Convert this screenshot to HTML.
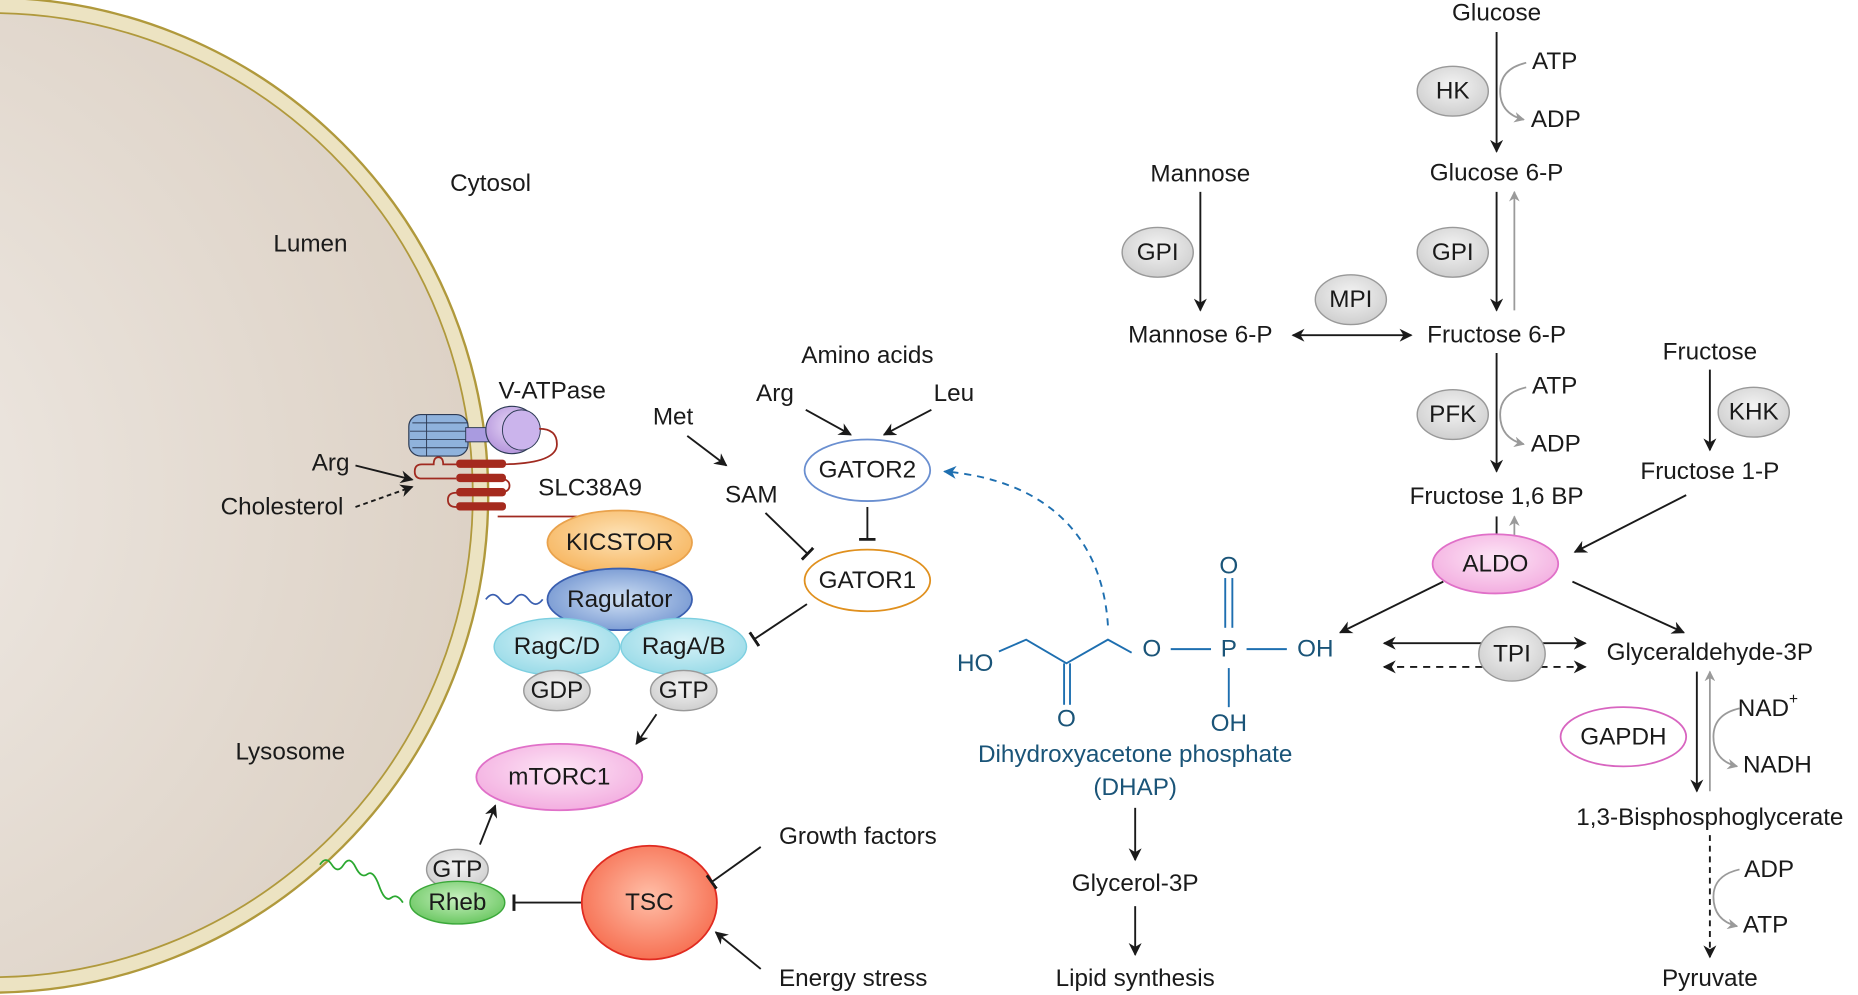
<!DOCTYPE html>
<html><head><meta charset="utf-8"><style>
html,body{margin:0;padding:0;background:#fff;}
svg{display:block;}
text{font-family:"Liberation Sans",Arial,sans-serif;font-size:20.5px;fill:#1a1a1a;text-anchor:middle;dominant-baseline:central;}
</style></head><body>
<svg width="1858" height="995" viewBox="0 0 1568 840" preserveAspectRatio="none" xmlns="http://www.w3.org/2000/svg">
<defs>
<radialGradient id="lum" cx="0.3" cy="0.5" r="0.7"><stop offset="0" stop-color="#f0ebe6"/><stop offset="1" stop-color="#ddd2c6"/></radialGradient>
<radialGradient id="gray" cx="0.5" cy="0.4" r="0.6"><stop offset="0" stop-color="#f4f4f4"/><stop offset="1" stop-color="#cfcfcf"/></radialGradient>
<radialGradient id="pink" cx="0.5" cy="0.4" r="0.6"><stop offset="0" stop-color="#fde6f6"/><stop offset="1" stop-color="#f3aee0"/></radialGradient>
<radialGradient id="orng" cx="0.5" cy="0.4" r="0.6"><stop offset="0" stop-color="#fde3b8"/><stop offset="1" stop-color="#f7b660"/></radialGradient>
<radialGradient id="blue" cx="0.5" cy="0.5" r="0.6"><stop offset="0" stop-color="#cfe0f4"/><stop offset="1" stop-color="#6f92cf"/></radialGradient>
<radialGradient id="cyan" cx="0.5" cy="0.4" r="0.6"><stop offset="0" stop-color="#daf3f8"/><stop offset="1" stop-color="#9adbe8"/></radialGradient>
<radialGradient id="grn" cx="0.5" cy="0.4" r="0.6"><stop offset="0" stop-color="#c8f0c0"/><stop offset="1" stop-color="#6cc863"/></radialGradient>
<radialGradient id="red" cx="0.5" cy="0.45" r="0.6"><stop offset="0" stop-color="#ffbfa8"/><stop offset="1" stop-color="#f66a4c"/></radialGradient>
<radialGradient id="purp" cx="0.5" cy="0.4" r="0.6"><stop offset="0" stop-color="#e6d6f6"/><stop offset="1" stop-color="#b596dc"/></radialGradient>
<marker id="a" viewBox="0 0 10 10" refX="9" refY="5" markerWidth="11" markerHeight="11" orient="auto-start-reverse" markerUnits="userSpaceOnUse"><path d="M0,0 L10,5 L0,10 L3,5z" fill="#1a1a1a"/></marker>
<marker id="ag" viewBox="0 0 10 10" refX="9" refY="5" markerWidth="9" markerHeight="9" orient="auto-start-reverse" markerUnits="userSpaceOnUse"><path d="M0,0 L10,5 L0,10 L3,5z" fill="#9a9a9a"/></marker>
<marker id="ab" viewBox="0 0 10 10" refX="9" refY="5" markerWidth="11" markerHeight="11" orient="auto" markerUnits="userSpaceOnUse"><path d="M0,0 L10,5 L0,10 L3,5z" fill="#1e6fb0"/></marker>
<marker id="t" viewBox="0 0 4 14" refX="2" refY="7" markerWidth="4" markerHeight="14" orient="auto" markerUnits="userSpaceOnUse"><rect x="0" y="0" width="2.5" height="14" fill="#1a1a1a"/></marker>
</defs>

<circle cx="-8" cy="418" r="420" fill="#ece3c2" stroke="#b0993c" stroke-width="2"/>
<circle cx="-8" cy="418" r="407" fill="url(#lum)" stroke="#b0993c" stroke-width="1.5"/>

<text x="414" y="155">Cytosol</text>
<text x="262" y="206">Lumen</text>
<text x="245" y="635">Lysosome</text>
<text x="466" y="330">V-ATPase</text>
<text x="498" y="412">SLC38A9</text>
<text x="279" y="391">Arg</text>
<text x="238" y="428">Cholesterol</text>
<line x1="300" y1="393" x2="348" y2="405" stroke="#1a1a1a" stroke-width="1.6" marker-end="url(#a)"/>
<line x1="300" y1="428" x2="348" y2="411" stroke="#1a1a1a" stroke-width="1.6" stroke-dasharray="4,3" marker-end="url(#a)"/>

<rect x="345" y="350" width="50" height="35" rx="10" fill="#8fb2dc" stroke="#2d3b55" stroke-width="1"/>
<g stroke="#2d3b55" stroke-width="0.8"><line x1="348" y1="357" x2="395" y2="357"/><line x1="346" y1="364" x2="395" y2="364"/><line x1="346" y1="371" x2="395" y2="371"/><line x1="348" y1="378" x2="395" y2="378"/><line x1="360" y1="350" x2="360" y2="385"/></g>
<rect x="393" y="361" width="32" height="12" fill="#a99be0" stroke="#2d3b55" stroke-width="0.8"/>
<ellipse cx="432" cy="363" rx="22" ry="20" fill="url(#purp)" stroke="#2d3b55" stroke-width="1"/>
<ellipse cx="440" cy="363" rx="16" ry="17" fill="#cbb4ec" stroke="#2d3b55" stroke-width="0.8"/>
<path d="M505,436 L420,436 M420,428 L385,428 Q378,428 378,422 Q378,416 385,416 L420,416 M420,404 Q430,404 430,410 Q430,416 420,416 M385,404 L356,404 Q350,404 350,398 Q350,392 356,392 L366,392 Q366,386 370,386 Q374,386 374,392 L420,392 Q470,392 470,375 Q470,362 455,362" fill="none" stroke="#a02a20" stroke-width="1.5"/>
<g fill="#a52a1e"><rect x="385" y="388" width="42" height="7" rx="3"/><rect x="385" y="400" width="42" height="7" rx="3"/><rect x="385" y="412" width="42" height="7" rx="3"/><rect x="385" y="424" width="42" height="7" rx="3"/></g>

<ellipse cx="523" cy="458" rx="61" ry="27" fill="url(#orng)" stroke="#e9a24c" stroke-width="1.5"/>
<text x="523" y="458">KICSTOR</text>
<path d="M410,506 q6,-8 12,0 t12,0 t12,0 t12,0" fill="none" stroke="#3a5fb0" stroke-width="1.5"/>
<ellipse cx="523" cy="506" rx="61" ry="26" fill="url(#blue)" stroke="#3a5fb0" stroke-width="1.5"/>
<text x="523" y="506">Ragulator</text>
<ellipse cx="470" cy="546" rx="53" ry="24" fill="url(#cyan)" stroke="#7dcfe0" stroke-width="1.2"/>
<ellipse cx="577" cy="546" rx="53" ry="24" fill="url(#cyan)" stroke="#7dcfe0" stroke-width="1.2"/>
<text x="470" y="546">RagC/D</text><text x="577" y="546">RagA/B</text>
<ellipse cx="470" cy="583" rx="28" ry="17" fill="url(#gray)" stroke="#999" stroke-width="1.2"/>
<ellipse cx="577" cy="583" rx="28" ry="17" fill="url(#gray)" stroke="#999" stroke-width="1.2"/>
<text x="470" y="583">GDP</text><text x="577" y="583">GTP</text>
<line x1="554" y1="603" x2="537" y2="628" stroke="#1a1a1a" stroke-width="1.6" marker-end="url(#a)"/>
<ellipse cx="472" cy="656" rx="70" ry="28" fill="url(#pink)" stroke="#e070c8" stroke-width="1.5"/>
<text x="472" y="656">mTORC1</text>

<path d="M270,730 q5,-8 10,0 t10,0 t10,2 t10,6 t10,10 t10,10 t10,4" fill="none" stroke="#2aa830" stroke-width="1.5"/>
<ellipse cx="386" cy="734" rx="26" ry="17" fill="url(#gray)" stroke="#999" stroke-width="1.2"/>
<text x="386" y="734">GTP</text>
<ellipse cx="386" cy="762" rx="40" ry="18" fill="url(#grn)" stroke="#3ba83a" stroke-width="1.2"/>
<text x="386" y="762">Rheb</text>
<line x1="405" y1="713" x2="418" y2="680" stroke="#1a1a1a" stroke-width="1.6" marker-end="url(#a)"/>
<line x1="492" y1="762" x2="433" y2="762" stroke="#1a1a1a" stroke-width="1.6" marker-end="url(#t)"/>
<ellipse cx="548" cy="762" rx="57" ry="48" fill="url(#red)" stroke="#e02a20" stroke-width="1.5"/>
<text x="548" y="762">TSC</text>
<text x="724" y="706">Growth factors</text>
<line x1="642" y1="715" x2="600" y2="745" stroke="#1a1a1a" stroke-width="1.6" marker-end="url(#t)"/>
<text x="720" y="826">Energy stress</text>
<line x1="642" y1="818" x2="604" y2="787" stroke="#1a1a1a" stroke-width="1.6" marker-end="url(#a)"/>

<text x="732" y="300">Amino acids</text>
<text x="654" y="332">Arg</text><text x="805" y="332">Leu</text>
<line x1="680" y1="346" x2="718" y2="367" stroke="#1a1a1a" stroke-width="1.6" marker-end="url(#a)"/>
<line x1="786" y1="346" x2="746" y2="367" stroke="#1a1a1a" stroke-width="1.6" marker-end="url(#a)"/>
<ellipse cx="732" cy="397" rx="53" ry="26" fill="#fff" stroke="#6a8fd0" stroke-width="1.5"/>
<text x="732" y="397">GATOR2</text>
<line x1="732" y1="428" x2="732" y2="456" stroke="#1a1a1a" stroke-width="1.6" marker-end="url(#t)"/>
<ellipse cx="732" cy="490" rx="53" ry="26" fill="#fff" stroke="#e0901e" stroke-width="1.5"/>
<text x="732" y="490">GATOR1</text>
<text x="568" y="352">Met</text>
<line x1="580" y1="368" x2="613" y2="393" stroke="#1a1a1a" stroke-width="1.6" marker-end="url(#a)"/>
<text x="634" y="418">SAM</text>
<line x1="646" y1="433" x2="682" y2="468" stroke="#1a1a1a" stroke-width="1.6" marker-end="url(#t)"/>
<line x1="681" y1="510" x2="636" y2="540" stroke="#1a1a1a" stroke-width="1.6" marker-end="url(#t)"/>
<path d="M935,528 C930,450 880,405 797,398" fill="none" stroke="#1e6fb0" stroke-width="1.6" stroke-dasharray="6,5" marker-end="url(#ab)"/>

<g stroke="#1e6fb0" stroke-width="1.6" fill="none">
<path d="M843,550 L866,540 L900,560 L935,540 L955,551"/>
<line x1="898" y1="560" x2="898" y2="595"/><line x1="903" y1="560" x2="903" y2="595"/>
<line x1="988" y1="548" x2="1022" y2="548"/><line x1="1052" y1="548" x2="1086" y2="548"/>
<line x1="1034" y1="488" x2="1034" y2="530"/><line x1="1040" y1="488" x2="1040" y2="530"/>
<line x1="1037" y1="564" x2="1037" y2="597"/>
</g>
<text x="823" y="560" style="fill:#1a5478">HO</text>
<text x="900" y="607" style="fill:#1a5478">O</text>
<text x="972" y="548" style="fill:#1a5478">O</text>
<text x="1037" y="548" style="fill:#1a5478">P</text>
<text x="1110" y="548" style="fill:#1a5478">OH</text>
<text x="1037" y="478" style="fill:#1a5478">O</text>
<text x="1037" y="611" style="fill:#1a5478">OH</text>
<text x="958" y="637" style="fill:#1a5478">Dihydroxyacetone phosphate</text>
<text x="958" y="665" style="fill:#1a5478">(DHAP)</text>
<line x1="958" y1="682" x2="958" y2="726" stroke="#1a1a1a" stroke-width="1.6" marker-end="url(#a)"/>
<text x="958" y="746">Glycerol-3P</text>
<line x1="958" y1="765" x2="958" y2="806" stroke="#1a1a1a" stroke-width="1.6" marker-end="url(#a)"/>
<text x="958" y="826">Lipid synthesis</text>

<text x="1263" y="11">Glucose</text>
<line x1="1263" y1="27" x2="1263" y2="128" stroke="#1a1a1a" stroke-width="1.6" marker-end="url(#a)"/>
<ellipse cx="1226" cy="77" rx="30" ry="21" fill="url(#gray)" stroke="#999" stroke-width="1.2"/><text x="1226" y="77">HK</text>
<path d="M1288,53 Q1266,58 1266,77 Q1266,96 1286,101" fill="none" stroke="#9a9a9a" stroke-width="1.5" marker-end="url(#ag)"/>
<text x="1312" y="52">ATP</text><text x="1313" y="101">ADP</text>
<text x="1263" y="146">Glucose 6-P</text>
<line x1="1263" y1="162" x2="1263" y2="262" stroke="#1a1a1a" stroke-width="1.6" marker-end="url(#a)"/>
<line x1="1278" y1="262" x2="1278" y2="162" stroke="#9a9a9a" stroke-width="1.5" marker-end="url(#ag)"/>
<ellipse cx="1226" cy="213" rx="30" ry="21" fill="url(#gray)" stroke="#999" stroke-width="1.2"/><text x="1226" y="213">GPI</text>
<text x="1013" y="147">Mannose</text>
<line x1="1013" y1="162" x2="1013" y2="262" stroke="#1a1a1a" stroke-width="1.6" marker-end="url(#a)"/>
<ellipse cx="977" cy="213" rx="30" ry="21" fill="url(#gray)" stroke="#999" stroke-width="1.2"/><text x="977" y="213">GPI</text>
<text x="1013" y="283">Mannose 6-P</text>
<ellipse cx="1140" cy="253" rx="30" ry="21" fill="url(#gray)" stroke="#999" stroke-width="1.2"/><text x="1140" y="253">MPI</text>
<line x1="1091" y1="283" x2="1191" y2="283" stroke="#1a1a1a" stroke-width="1.6" marker-start="url(#a)" marker-end="url(#a)"/>
<text x="1263" y="283">Fructose 6-P</text>
<line x1="1263" y1="298" x2="1263" y2="398" stroke="#1a1a1a" stroke-width="1.6" marker-end="url(#a)"/>
<ellipse cx="1226" cy="350" rx="30" ry="21" fill="url(#gray)" stroke="#999" stroke-width="1.2"/><text x="1226" y="350">PFK</text>
<path d="M1288,327 Q1266,332 1266,350 Q1266,370 1286,375" fill="none" stroke="#9a9a9a" stroke-width="1.5" marker-end="url(#ag)"/>
<text x="1312" y="326">ATP</text><text x="1313" y="375">ADP</text>
<text x="1263" y="419">Fructose 1,6 BP</text>
<line x1="1263" y1="436" x2="1263" y2="453" stroke="#1a1a1a" stroke-width="1.6"/>
<line x1="1278" y1="453" x2="1278" y2="436" stroke="#9a9a9a" stroke-width="1.5" marker-end="url(#ag)"/>
<ellipse cx="1262" cy="476" rx="53" ry="25" fill="url(#pink)" stroke="#e070c8" stroke-width="1.5"/><text x="1262" y="476">ALDO</text>
<text x="1443" y="297">Fructose</text>
<line x1="1443" y1="312" x2="1443" y2="380" stroke="#1a1a1a" stroke-width="1.6" marker-end="url(#a)"/>
<ellipse cx="1480" cy="348" rx="30" ry="21" fill="url(#gray)" stroke="#999" stroke-width="1.2"/><text x="1480" y="348">KHK</text>
<text x="1443" y="398">Fructose 1-P</text>
<line x1="1423" y1="418" x2="1329" y2="466" stroke="#1a1a1a" stroke-width="1.6" marker-end="url(#a)"/>
<line x1="1218" y1="491" x2="1131" y2="534" stroke="#1a1a1a" stroke-width="1.6" marker-end="url(#a)"/>
<line x1="1327" y1="491" x2="1421" y2="534" stroke="#1a1a1a" stroke-width="1.6" marker-end="url(#a)"/>
<line x1="1168" y1="543" x2="1338" y2="543" stroke="#1a1a1a" stroke-width="1.6" marker-start="url(#a)" marker-end="url(#a)"/>
<line x1="1168" y1="563" x2="1338" y2="563" stroke="#1a1a1a" stroke-width="1.6" stroke-dasharray="6,5" marker-start="url(#a)" marker-end="url(#a)"/>
<ellipse cx="1276" cy="552" rx="28" ry="23" fill="url(#gray)" stroke="#999" stroke-width="1.2"/><text x="1276" y="552">TPI</text>
<text x="1443" y="551">Glyceraldehyde-3P</text>
<line x1="1432" y1="567" x2="1432" y2="668" stroke="#1a1a1a" stroke-width="1.6" marker-end="url(#a)"/>
<line x1="1443" y1="668" x2="1443" y2="567" stroke="#9a9a9a" stroke-width="1.5" marker-end="url(#ag)"/>
<ellipse cx="1370" cy="622" rx="53" ry="25" fill="#fff" stroke="#d865c0" stroke-width="1.5"/><text x="1370" y="622">GAPDH</text>
<path d="M1468,598 Q1446,603 1446,622 Q1446,642 1466,647" fill="none" stroke="#9a9a9a" stroke-width="1.5" marker-end="url(#ag)"/>
<text x="1492" y="598">NAD<tspan dy="-8" font-size="13">+</tspan></text><text x="1500" y="646">NADH</text>
<text x="1443" y="690">1,3-Bisphosphoglycerate</text>
<line x1="1443" y1="705" x2="1443" y2="808" stroke="#1a1a1a" stroke-width="1.6" stroke-dasharray="5,4" marker-end="url(#a)"/>
<path d="M1468,734 Q1446,739 1446,757 Q1446,777 1466,782" fill="none" stroke="#9a9a9a" stroke-width="1.5" marker-end="url(#ag)"/>
<text x="1493" y="734">ADP</text><text x="1490" y="781">ATP</text>
<text x="1443" y="826">Pyruvate</text>
</svg>
</body></html>
